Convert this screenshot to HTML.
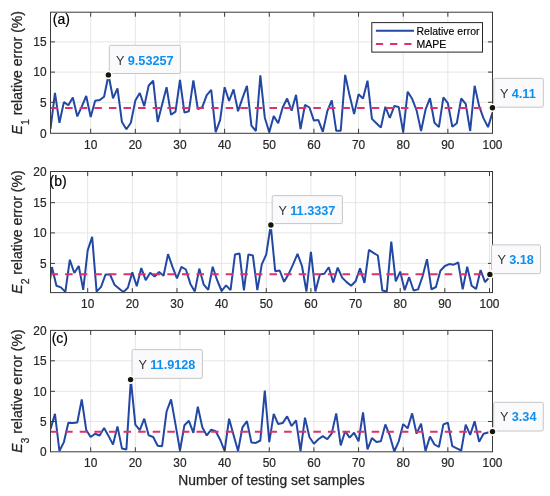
<!DOCTYPE html>
<html><head><meta charset="utf-8"><title>Relative error</title>
<style>html,body{margin:0;padding:0;background:#fff;}svg{display:block;}</style>
</head><body>
<svg width="550" height="496" viewBox="0 0 550 496" font-family="'Liberation Sans', Arial, Helvetica, sans-serif">
<rect width="550" height="496" fill="#fff"/>
<defs>
<clipPath id="clipa"><rect x="50.5" y="12.2" width="442.0" height="121.10000000000001"/></clipPath>
<clipPath id="clipb"><rect x="50.5" y="171.5" width="442.0" height="121.10000000000002"/></clipPath>
<clipPath id="clipc"><rect x="50.5" y="330.4" width="442.0" height="121.40000000000003"/></clipPath>
</defs>
<line x1="90.68" y1="12.2" x2="90.68" y2="133.3" stroke="#e6e6e6" stroke-width="1"/>
<line x1="135.33" y1="12.2" x2="135.33" y2="133.3" stroke="#e6e6e6" stroke-width="1"/>
<line x1="179.97" y1="12.2" x2="179.97" y2="133.3" stroke="#e6e6e6" stroke-width="1"/>
<line x1="224.62" y1="12.2" x2="224.62" y2="133.3" stroke="#e6e6e6" stroke-width="1"/>
<line x1="269.27" y1="12.2" x2="269.27" y2="133.3" stroke="#e6e6e6" stroke-width="1"/>
<line x1="313.91" y1="12.2" x2="313.91" y2="133.3" stroke="#e6e6e6" stroke-width="1"/>
<line x1="358.56" y1="12.2" x2="358.56" y2="133.3" stroke="#e6e6e6" stroke-width="1"/>
<line x1="403.21" y1="12.2" x2="403.21" y2="133.3" stroke="#e6e6e6" stroke-width="1"/>
<line x1="447.85" y1="12.2" x2="447.85" y2="133.3" stroke="#e6e6e6" stroke-width="1"/>
<line x1="50.5" y1="102.30" x2="492.5" y2="102.30" stroke="#e6e6e6" stroke-width="1"/>
<line x1="50.5" y1="72.10" x2="492.5" y2="72.10" stroke="#e6e6e6" stroke-width="1"/>
<line x1="50.5" y1="41.90" x2="492.5" y2="41.90" stroke="#e6e6e6" stroke-width="1"/>
<g clip-path="url(#clipa)">
<polyline points="50.50,129.00 54.96,92.90 59.43,122.80 63.89,102.10 68.36,105.20 72.82,97.50 77.29,116.40 81.75,106.70 86.22,96.00 90.68,117.00 95.15,100.80 99.61,100.10 104.08,96.80 108.54,75.00 113.01,98.30 117.47,88.30 121.93,122.00 126.40,129.30 130.86,122.80 135.33,100.60 139.79,93.00 144.26,106.10 148.72,85.50 153.19,80.70 157.65,122.00 162.12,104.60 166.58,87.20 171.05,114.80 175.51,111.60 179.97,80.00 184.44,112.60 188.90,111.20 193.37,80.30 197.83,109.00 202.30,107.20 206.76,95.20 211.23,89.80 215.69,132.20 220.16,119.90 224.62,87.20 229.09,101.00 233.55,89.40 238.02,111.20 242.48,98.10 246.94,85.80 251.41,125.70 255.87,131.00 260.34,75.30 264.80,117.70 269.27,132.20 273.73,116.10 278.20,123.20 282.66,107.50 287.13,98.50 291.59,110.70 296.06,94.80 300.52,129.00 304.98,104.90 309.45,107.50 313.91,120.60 318.38,120.10 322.84,131.90 327.31,111.20 331.77,100.30 336.24,130.80 340.70,130.80 345.17,74.90 349.63,95.60 354.10,114.10 358.56,94.20 363.03,98.50 367.49,80.70 371.95,118.90 376.42,123.20 380.88,127.60 385.35,106.80 389.81,118.00 394.28,106.10 398.74,107.10 403.21,132.20 407.67,91.70 412.14,98.80 416.60,110.40 421.07,131.00 425.53,109.70 429.99,98.10 434.46,122.80 438.92,127.10 443.39,97.40 447.85,103.20 452.32,126.70 456.78,123.20 461.25,98.50 465.71,103.90 470.18,131.00 474.64,85.80 479.11,106.10 483.57,118.40 488.04,127.10 492.50,112.60" fill="none" stroke="#2348a3" stroke-width="2" stroke-linejoin="bevel"/>
<line x1="50.5" y1="107.9" x2="492.5" y2="107.9" stroke="#e0306a" stroke-width="2" stroke-dasharray="7.55 7.05"/>
</g>
<rect x="50.5" y="12.2" width="442.0" height="121.10000000000001" fill="none" stroke="#3a3a3a" stroke-width="1"/>
<path d="M90.68 133.3v-4.5M90.68 12.2v4.5M135.33 133.3v-4.5M135.33 12.2v4.5M179.97 133.3v-4.5M179.97 12.2v4.5M224.62 133.3v-4.5M224.62 12.2v4.5M269.27 133.3v-4.5M269.27 12.2v4.5M313.91 133.3v-4.5M313.91 12.2v4.5M358.56 133.3v-4.5M358.56 12.2v4.5M403.21 133.3v-4.5M403.21 12.2v4.5M447.85 133.3v-4.5M447.85 12.2v4.5M492.50 133.3v-4.5M492.50 12.2v4.5M50.5 102.30h4.5M492.5 102.30h-4.5M50.5 72.10h4.5M492.5 72.10h-4.5M50.5 41.90h4.5M492.5 41.90h-4.5" stroke="#3a3a3a" stroke-width="1" fill="none"/>
<g font-size="11.9" fill="#262626" stroke="#262626" stroke-width="0.2"><text x="90.68" y="148.80" text-anchor="middle">10</text><text x="135.33" y="148.80" text-anchor="middle">20</text><text x="179.97" y="148.80" text-anchor="middle">30</text><text x="224.62" y="148.80" text-anchor="middle">40</text><text x="269.27" y="148.80" text-anchor="middle">50</text><text x="313.91" y="148.80" text-anchor="middle">60</text><text x="358.56" y="148.80" text-anchor="middle">70</text><text x="403.21" y="148.80" text-anchor="middle">80</text><text x="447.85" y="148.80" text-anchor="middle">90</text><text x="492.50" y="148.80" text-anchor="middle">100</text><text x="46.6" y="137.55" text-anchor="end">0</text><text x="46.6" y="106.55" text-anchor="end">5</text><text x="46.6" y="76.35" text-anchor="end">10</text><text x="46.6" y="46.15" text-anchor="end">15</text></g>
<text x="52.80" y="23.6" font-size="14" fill="#000" stroke="#000" stroke-width="0.2">(a)</text>
<text transform="translate(22,72.75) rotate(-90)" text-anchor="middle" font-size="14" fill="#262626" stroke="#262626" stroke-width="0.25"><tspan font-style="italic">E</tspan><tspan font-size="10.5" dy="6.9">1</tspan><tspan dy="-6.9"> relative error (%)</tspan></text>
<line x1="87.68" y1="171.5" x2="87.68" y2="292.6" stroke="#e6e6e6" stroke-width="1"/>
<line x1="132.33" y1="171.5" x2="132.33" y2="292.6" stroke="#e6e6e6" stroke-width="1"/>
<line x1="176.97" y1="171.5" x2="176.97" y2="292.6" stroke="#e6e6e6" stroke-width="1"/>
<line x1="221.62" y1="171.5" x2="221.62" y2="292.6" stroke="#e6e6e6" stroke-width="1"/>
<line x1="266.27" y1="171.5" x2="266.27" y2="292.6" stroke="#e6e6e6" stroke-width="1"/>
<line x1="310.91" y1="171.5" x2="310.91" y2="292.6" stroke="#e6e6e6" stroke-width="1"/>
<line x1="355.56" y1="171.5" x2="355.56" y2="292.6" stroke="#e6e6e6" stroke-width="1"/>
<line x1="400.21" y1="171.5" x2="400.21" y2="292.6" stroke="#e6e6e6" stroke-width="1"/>
<line x1="444.85" y1="171.5" x2="444.85" y2="292.6" stroke="#e6e6e6" stroke-width="1"/>
<line x1="489.50" y1="171.5" x2="489.50" y2="292.6" stroke="#e6e6e6" stroke-width="1"/>
<line x1="50.5" y1="263.40" x2="492.5" y2="263.40" stroke="#e6e6e6" stroke-width="1"/>
<line x1="50.5" y1="232.90" x2="492.5" y2="232.90" stroke="#e6e6e6" stroke-width="1"/>
<line x1="50.5" y1="202.70" x2="492.5" y2="202.70" stroke="#e6e6e6" stroke-width="1"/>
<g clip-path="url(#clipb)">
<polyline points="47.50,297.00 51.96,267.10 56.43,285.70 60.89,287.40 65.36,291.90 69.82,259.70 74.29,273.00 78.75,266.00 83.22,289.90 87.68,250.40 92.15,236.90 96.61,291.60 101.08,286.90 105.54,274.50 110.01,274.50 114.47,284.70 118.93,288.40 123.40,292.10 127.86,287.70 132.33,272.40 136.79,286.20 141.26,268.10 145.72,280.20 150.19,272.70 154.65,276.50 159.12,272.00 163.58,275.70 168.05,254.10 172.51,266.80 176.97,278.40 181.44,266.80 185.90,269.50 190.37,283.90 194.83,291.40 199.30,268.60 203.76,284.70 208.23,289.90 212.69,266.80 217.16,280.20 221.62,291.00 226.09,285.40 230.55,290.10 235.02,254.40 239.48,253.40 243.94,290.50 248.41,254.40 252.87,255.50 257.34,290.20 261.80,264.40 266.27,254.40 270.73,225.00 275.20,271.20 279.66,270.50 284.13,281.80 288.59,274.10 293.06,264.40 297.52,253.90 301.98,266.00 306.45,291.50 310.91,251.80 315.38,291.50 319.84,274.50 324.31,273.70 328.77,267.30 333.24,282.50 337.70,267.60 342.17,277.60 346.63,282.10 351.10,285.70 355.56,281.30 360.03,268.40 364.49,282.90 368.95,249.90 373.42,252.80 377.88,255.50 382.35,290.50 386.81,291.50 391.28,241.50 395.74,281.30 400.21,271.60 404.67,290.20 409.14,277.20 413.60,290.50 418.07,289.40 422.53,276.50 426.99,259.20 431.46,289.40 435.92,287.00 440.39,270.80 444.85,266.00 449.32,264.10 453.78,264.70 458.25,262.50 462.71,289.40 467.18,266.80 471.64,285.70 476.11,288.90 480.57,270.00 485.04,282.10 489.50,277.00" fill="none" stroke="#2348a3" stroke-width="2" stroke-linejoin="bevel"/>
<line x1="50.5" y1="274.2" x2="489.5" y2="274.2" stroke="#e0306a" stroke-width="2" stroke-dasharray="7.55 7.05"/>
</g>
<rect x="50.5" y="171.5" width="442.0" height="121.10000000000002" fill="none" stroke="#3a3a3a" stroke-width="1"/>
<path d="M87.68 292.6v-4.5M87.68 171.5v4.5M132.33 292.6v-4.5M132.33 171.5v4.5M176.97 292.6v-4.5M176.97 171.5v4.5M221.62 292.6v-4.5M221.62 171.5v4.5M266.27 292.6v-4.5M266.27 171.5v4.5M310.91 292.6v-4.5M310.91 171.5v4.5M355.56 292.6v-4.5M355.56 171.5v4.5M400.21 292.6v-4.5M400.21 171.5v4.5M444.85 292.6v-4.5M444.85 171.5v4.5M489.50 292.6v-4.5M489.50 171.5v4.5M50.5 263.40h4.5M492.5 263.40h-4.5M50.5 232.90h4.5M492.5 232.90h-4.5M50.5 202.70h4.5M492.5 202.70h-4.5" stroke="#3a3a3a" stroke-width="1" fill="none"/>
<g font-size="11.9" fill="#262626" stroke="#262626" stroke-width="0.2"><text x="87.68" y="308.10" text-anchor="middle">10</text><text x="132.33" y="308.10" text-anchor="middle">20</text><text x="176.97" y="308.10" text-anchor="middle">30</text><text x="221.62" y="308.10" text-anchor="middle">40</text><text x="266.27" y="308.10" text-anchor="middle">50</text><text x="310.91" y="308.10" text-anchor="middle">60</text><text x="355.56" y="308.10" text-anchor="middle">70</text><text x="400.21" y="308.10" text-anchor="middle">80</text><text x="444.85" y="308.10" text-anchor="middle">90</text><text x="489.50" y="308.10" text-anchor="middle">100</text><text x="46.6" y="267.65" text-anchor="end">5</text><text x="46.6" y="237.15" text-anchor="end">10</text><text x="46.6" y="206.95" text-anchor="end">15</text><text x="46.6" y="175.75" text-anchor="end">20</text></g>
<text x="49.50" y="185.9" font-size="14" fill="#000" stroke="#000" stroke-width="0.2">(b)</text>
<text transform="translate(22,232.05) rotate(-90)" text-anchor="middle" font-size="14" fill="#262626" stroke="#262626" stroke-width="0.25"><tspan font-style="italic">E</tspan><tspan font-size="10.5" dy="6.9">2</tspan><tspan dy="-6.9"> relative error (%)</tspan></text>
<line x1="90.68" y1="330.4" x2="90.68" y2="451.8" stroke="#e6e6e6" stroke-width="1"/>
<line x1="135.33" y1="330.4" x2="135.33" y2="451.8" stroke="#e6e6e6" stroke-width="1"/>
<line x1="179.97" y1="330.4" x2="179.97" y2="451.8" stroke="#e6e6e6" stroke-width="1"/>
<line x1="224.62" y1="330.4" x2="224.62" y2="451.8" stroke="#e6e6e6" stroke-width="1"/>
<line x1="269.27" y1="330.4" x2="269.27" y2="451.8" stroke="#e6e6e6" stroke-width="1"/>
<line x1="313.91" y1="330.4" x2="313.91" y2="451.8" stroke="#e6e6e6" stroke-width="1"/>
<line x1="358.56" y1="330.4" x2="358.56" y2="451.8" stroke="#e6e6e6" stroke-width="1"/>
<line x1="403.21" y1="330.4" x2="403.21" y2="451.8" stroke="#e6e6e6" stroke-width="1"/>
<line x1="447.85" y1="330.4" x2="447.85" y2="451.8" stroke="#e6e6e6" stroke-width="1"/>
<line x1="50.5" y1="421.50" x2="492.5" y2="421.50" stroke="#e6e6e6" stroke-width="1"/>
<line x1="50.5" y1="391.30" x2="492.5" y2="391.30" stroke="#e6e6e6" stroke-width="1"/>
<line x1="50.5" y1="360.80" x2="492.5" y2="360.80" stroke="#e6e6e6" stroke-width="1"/>
<g clip-path="url(#clipc)">
<polyline points="50.50,429.20 54.96,413.90 59.43,451.00 63.89,442.10 68.36,422.80 72.82,423.10 77.29,422.50 81.75,399.40 86.22,430.00 90.68,437.00 95.15,433.70 99.61,435.50 104.08,428.10 108.54,435.90 113.01,444.60 117.47,426.40 121.93,448.40 126.40,449.40 130.86,379.60 135.33,424.60 139.79,430.20 144.26,418.70 148.72,435.40 153.19,437.00 157.65,445.70 162.12,446.20 166.58,411.50 171.05,399.40 175.51,424.40 179.97,450.50 184.44,425.20 188.90,420.80 193.37,432.80 197.83,406.60 202.30,427.30 206.76,435.40 211.23,429.70 215.69,431.20 220.16,439.70 224.62,451.00 229.09,418.70 233.55,434.90 238.02,451.00 242.48,427.30 246.94,421.20 251.41,442.50 255.87,442.90 260.34,440.50 264.80,390.50 269.27,442.10 273.73,413.90 278.20,424.10 282.66,423.10 287.13,416.30 291.59,426.00 296.06,420.40 300.52,451.00 304.98,417.60 309.45,437.30 313.91,443.70 318.38,439.30 322.84,436.10 327.31,439.20 331.77,433.30 336.24,413.40 340.70,445.40 345.17,431.20 349.63,437.60 354.10,432.80 358.56,441.30 363.03,412.30 367.49,449.40 371.95,438.10 376.42,442.10 380.88,441.30 385.35,424.40 389.81,435.70 394.28,451.50 398.74,441.30 403.21,424.10 407.67,428.40 412.14,413.40 416.60,433.70 421.07,423.60 425.53,451.00 429.99,436.50 434.46,444.50 438.92,447.00 443.39,424.40 447.85,422.80 452.32,446.20 456.78,448.30 461.25,450.50 465.71,424.70 470.18,434.90 474.64,421.20 479.11,441.80 483.57,433.70 488.04,432.50 492.50,431.60" fill="none" stroke="#2348a3" stroke-width="2" stroke-linejoin="bevel"/>
<line x1="50.5" y1="431.7" x2="492.5" y2="431.7" stroke="#e0306a" stroke-width="2" stroke-dasharray="7.55 7.05"/>
</g>
<rect x="50.5" y="330.4" width="442.0" height="121.40000000000003" fill="none" stroke="#3a3a3a" stroke-width="1"/>
<path d="M90.68 451.8v-4.5M90.68 330.4v4.5M135.33 451.8v-4.5M135.33 330.4v4.5M179.97 451.8v-4.5M179.97 330.4v4.5M224.62 451.8v-4.5M224.62 330.4v4.5M269.27 451.8v-4.5M269.27 330.4v4.5M313.91 451.8v-4.5M313.91 330.4v4.5M358.56 451.8v-4.5M358.56 330.4v4.5M403.21 451.8v-4.5M403.21 330.4v4.5M447.85 451.8v-4.5M447.85 330.4v4.5M492.50 451.8v-4.5M492.50 330.4v4.5M50.5 421.50h4.5M492.5 421.50h-4.5M50.5 391.30h4.5M492.5 391.30h-4.5M50.5 360.80h4.5M492.5 360.80h-4.5" stroke="#3a3a3a" stroke-width="1" fill="none"/>
<g font-size="11.9" fill="#262626" stroke="#262626" stroke-width="0.2"><text x="90.68" y="467.30" text-anchor="middle">10</text><text x="135.33" y="467.30" text-anchor="middle">20</text><text x="179.97" y="467.30" text-anchor="middle">30</text><text x="224.62" y="467.30" text-anchor="middle">40</text><text x="269.27" y="467.30" text-anchor="middle">50</text><text x="313.91" y="467.30" text-anchor="middle">60</text><text x="358.56" y="467.30" text-anchor="middle">70</text><text x="403.21" y="467.30" text-anchor="middle">80</text><text x="447.85" y="467.30" text-anchor="middle">90</text><text x="492.50" y="467.30" text-anchor="middle">100</text><text x="46.6" y="456.05" text-anchor="end">0</text><text x="46.6" y="425.75" text-anchor="end">5</text><text x="46.6" y="395.55" text-anchor="end">10</text><text x="46.6" y="365.05" text-anchor="end">15</text><text x="46.6" y="334.65" text-anchor="end">20</text></g>
<text x="51.70" y="342.6" font-size="14" fill="#000" stroke="#000" stroke-width="0.2">(c)</text>
<text transform="translate(22,391.10) rotate(-90)" text-anchor="middle" font-size="14" fill="#262626" stroke="#262626" stroke-width="0.25"><tspan font-style="italic">E</tspan><tspan font-size="10.5" dy="6.9">3</tspan><tspan dy="-6.9"> relative error (%)</tspan></text>
<rect x="371.8" y="22.6" width="110.7" height="29.5" fill="#fff" stroke="#262626" stroke-width="1"/>
<line x1="375.9" y1="30.8" x2="414" y2="30.8" stroke="#2348a3" stroke-width="2"/>
<line x1="375.9" y1="44" x2="414" y2="44" stroke="#e0306a" stroke-width="2" stroke-dasharray="7.2 7"/>
<g font-size="10.5" fill="#000" stroke="#000" stroke-width="0.15"><text x="416.5" y="35.1">Relative error</text><text x="416.5" y="48.3">MAPE</text></g>
<text x="271.5" y="485.0" text-anchor="middle" font-size="13.8" fill="#262626" stroke="#262626" stroke-width="0.25">Number of testing set samples</text>
<rect x="109.3" y="45.3" width="71.1" height="28.2" rx="1.5" fill="#fafafc" stroke="#c6c6c6" stroke-width="1"/>
<text x="116.0" y="64.8" font-size="12.7"><tspan fill="#333">Y </tspan><tspan fill="#0d8ff0" font-weight="bold">9.53257</tspan></text>
<circle cx="108.4" cy="74.9" r="3.5" fill="#141414" stroke="#fffdf0" stroke-width="1.6"/>
<rect x="493.7" y="78.3" width="49.6" height="28.9" rx="1.5" fill="#fafafc" stroke="#c6c6c6" stroke-width="1"/>
<text x="500.0" y="97.7" font-size="12.7"><tspan fill="#333">Y </tspan><tspan fill="#0d8ff0" font-weight="bold">4.11</tspan></text>
<circle cx="492.45" cy="107.7" r="3.5" fill="#141414" stroke="#fffdf0" stroke-width="1.6"/>
<rect x="272.2" y="195.6" width="70.2" height="28.0" rx="1.5" fill="#fafafc" stroke="#c6c6c6" stroke-width="1"/>
<text x="278.5" y="215.0" font-size="12.7"><tspan fill="#333">Y </tspan><tspan fill="#0d8ff0" font-weight="bold">11.3337</tspan></text>
<circle cx="270.9" cy="225.0" r="3.5" fill="#141414" stroke="#fffdf0" stroke-width="1.6"/>
<rect x="491.5" y="244.9" width="49.0" height="28.8" rx="1.5" fill="#fafafc" stroke="#c6c6c6" stroke-width="1"/>
<text x="497.4" y="263.9" font-size="12.7"><tspan fill="#333">Y </tspan><tspan fill="#0d8ff0" font-weight="bold">3.18</tspan></text>
<circle cx="489.9" cy="274.4" r="3.5" fill="#141414" stroke="#fffdf0" stroke-width="1.6"/>
<rect x="132.0" y="349.6" width="70.4" height="28.8" rx="1.5" fill="#fafafc" stroke="#c6c6c6" stroke-width="1"/>
<text x="138.5" y="369.4" font-size="12.7"><tspan fill="#333">Y </tspan><tspan fill="#0d8ff0" font-weight="bold">11.9128</tspan></text>
<circle cx="130.6" cy="379.6" r="3.5" fill="#141414" stroke="#fffdf0" stroke-width="1.6"/>
<rect x="493.7" y="402.3" width="49.6" height="28.7" rx="1.5" fill="#fafafc" stroke="#c6c6c6" stroke-width="1"/>
<text x="500.0" y="421.2" font-size="12.7"><tspan fill="#333">Y </tspan><tspan fill="#0d8ff0" font-weight="bold">3.34</tspan></text>
<circle cx="492.5" cy="431.6" r="3.5" fill="#141414" stroke="#fffdf0" stroke-width="1.6"/>
</svg>
</body></html>
